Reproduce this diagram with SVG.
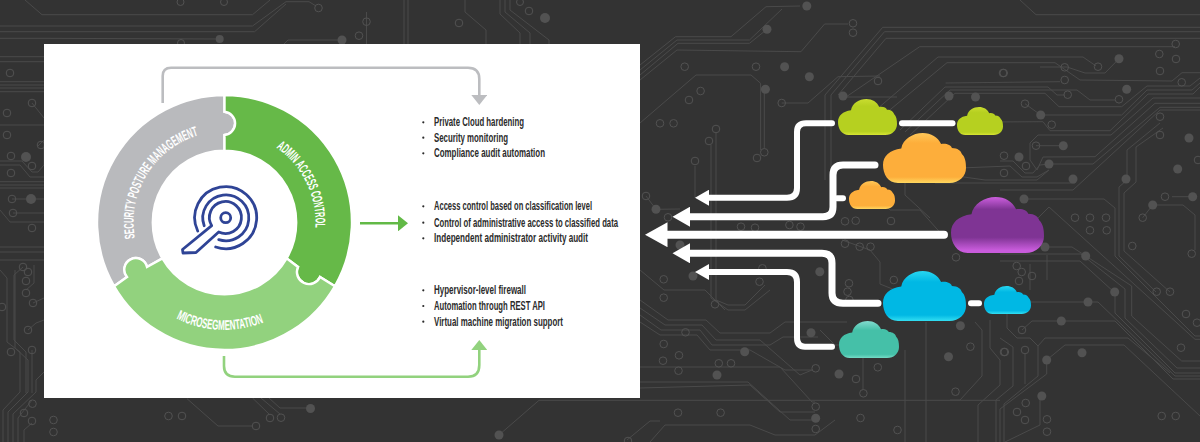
<svg xmlns="http://www.w3.org/2000/svg" width="1200" height="442" viewBox="0 0 1200 442">
<style>
.t{fill:none;stroke:#4a4a4a;stroke-width:1}
.r{fill:none;stroke:#525252;stroke-width:1}
.d{fill:#525252}
.w{fill:none;stroke:#fff;stroke-linecap:round;stroke-linejoin:round}
.seg{stroke:#fff;stroke-width:2.4}
.lab{font-family:"Liberation Sans Narrow","Liberation Sans",sans-serif;font-weight:700;font-size:14px;fill:#fff}
.bul{font-family:"Liberation Sans Narrow","Liberation Sans",sans-serif;font-weight:700;font-size:12px;fill:#2b2b2b}
.dotb{fill:#2b2b2b}
.logo{fill:none;stroke:#2f4496;stroke-width:2.8;stroke-linecap:round;stroke-linejoin:round}
</style>
<defs>
<marker id="hs" markerUnits="userSpaceOnUse" markerWidth="15" markerHeight="16" refX="0" refY="8" orient="auto" viewBox="0 0 15 16"><path d="M0 0L14 8L0 16Z" fill="#fff"/></marker>
<marker id="hm" markerUnits="userSpaceOnUse" markerWidth="18" markerHeight="20" refX="0" refY="10" orient="auto" viewBox="0 0 18 20"><path d="M0 0L17.5 10L0 20Z" fill="#fff"/></marker>
<marker id="hl" markerUnits="userSpaceOnUse" markerWidth="23" markerHeight="25" refX="0" refY="12.5" orient="auto" viewBox="0 0 23 25"><path d="M0 0L22.5 12.5L0 25Z" fill="#fff"/></marker>
<marker id="hgray" markerUnits="userSpaceOnUse" markerWidth="16" markerHeight="16" refX="0" refY="8" orient="auto" viewBox="0 0 16 16"><path d="M0 0L10 8L0 16Z" fill="#bcbdc0"/></marker>
<marker id="hlg" markerUnits="userSpaceOnUse" markerWidth="16" markerHeight="16" refX="0" refY="8" orient="auto" viewBox="0 0 16 16"><path d="M0 0L10 8L0 16Z" fill="#92d27e"/></marker>
<marker id="hg" markerUnits="userSpaceOnUse" markerWidth="16" markerHeight="16" refX="0" refY="8" orient="auto" viewBox="0 0 16 16"><path d="M0 0L10 8L0 16Z" fill="#62b946"/></marker>
<linearGradient id="gl" x1="0" y1="0" x2="0" y2="1"><stop offset="0" stop-color="#c9dc30"/><stop offset=".2" stop-color="#b6d020"/><stop offset=".9" stop-color="#b6d020"/><stop offset="1" stop-color="#d6e433"/></linearGradient>
<linearGradient id="go" x1="0" y1="0" x2="0" y2="1"><stop offset="0" stop-color="#ffc758"/><stop offset=".2" stop-color="#fdae3b"/><stop offset=".88" stop-color="#fdae3b"/><stop offset="1" stop-color="#ffd860"/></linearGradient>
<linearGradient id="gp" x1="0" y1="0" x2="0" y2="1"><stop offset="0" stop-color="#cc5ede"/><stop offset=".22" stop-color="#7f3494"/><stop offset=".72" stop-color="#7f3494"/><stop offset=".95" stop-color="#c95cdc"/></linearGradient>
<linearGradient id="gc" x1="0" y1="0" x2="0" y2="1"><stop offset="0" stop-color="#28d6f0"/><stop offset=".22" stop-color="#00b8e4"/><stop offset=".88" stop-color="#00b8e4"/><stop offset="1" stop-color="#33dff2"/></linearGradient>
<linearGradient id="gt" x1="0" y1="0" x2="0" y2="1"><stop offset="0" stop-color="#82dbcf"/><stop offset=".25" stop-color="#45c0a8"/><stop offset=".9" stop-color="#45c0a8"/><stop offset="1" stop-color="#74dcc6"/></linearGradient>
<path id="cl" d="M18 100C6 100 0 82 0 64C0 46 8 34 22 31C24 12 36 0 48 0C58 0 66 8 70 22C76 20 82 24 83 30C90 30 94 36 95 42C99 48 100 58 100 70C100 86 92 100 80 100Z"/>
<path id="pg" d="M134.9 238.3A91 91 0 0 1 197.9 135.5"/>
<path id="pa" d="M276.3 147.7A91 91 0 0 1 315.4 227.6"/>
<path id="pm" d="M176.2 318.5A107.5 107.5 0 0 0 265.5 321.7"/>
</defs>
<rect width="1200" height="442" fill="#333333"/>
<g id="background">
<g class="t">
<polyline points="25,0 42,14.7 252.5,14.7 270,0"/>
<polyline points="0,26 252.5,26 286,1.7 309,1.7 316,6"/>
<polyline points="0,31.7 254.6,31.7 286,4"/>
<polyline points="0,38.3 44,38.3 219.7,39"/>
<polyline points="284,44 288,40 342,40"/>
<path d="M366.5 12V44M404 0V44M408 0V44"/>
<polyline points="465,0 465,12 486,30 486,44"/>
<polyline points="500,0 500,14 520,33 520,44"/>
<polyline points="505,0 505,12 530,33 530,44"/>
<polyline points="510,0 510,10 549,40 549,44"/>
<polyline points="187,398.7 218,426 252.5,426"/>
<polyline points="252.5,398 269,414"/>
<polyline points="261,398 280,414"/>
<polyline points="269,398 280,408 307,408"/>
<polyline points="499,435 539,400.3 1000,400.3"/>
<polyline points="627,440 650,421 660,421"/>
<polyline points="3,442 3,410 20,392 20,352 7,342 7,278 0,270"/>
<polyline points="8,442 8,412 28,392 28,360 15,348 15,270"/>
<polyline points="13,442 13,414 36,392 36,380 44,372"/>
<polyline points="18,442 18,418 32,400"/>
<polyline points="24,442 24,430 32,423"/>
<path d="M0 56.7H44M0 61.7H44M0 81.7H44M0 85H44M0 88H44M0 91.7H44M0 125H44M0 181.7H44M0 185H44M0 188H44M0 247H44M0 252H44M0 260H44"/>
<polyline points="32,103 44,118"/>
<polyline points="0,165 20,165 30,177 44,177"/>
<polyline points="0,161 22,161 32,172 38,172 44,165 44,140 38,146"/>
<path d="M12 199H44M13 213H44"/>
<polyline points="0,210 10,222 44,222"/>
<polyline points="33,303 44,298"/>
<polyline points="28,330 36,323 44,320"/>
<polyline points="23,267 14,275 14,340 26,352 26,393"/>
<polyline points="34,265 34,283 26,290"/>
<polyline points="32,350 32,393"/>
<polyline points="640,65 675.5,36.7 731,36.7 766,6.7 800,6"/>
<polyline points="640,70 677,40 749.5,40 782,9"/>
<polyline points="640,75 678,43.3 749.5,43.3 767,29.3"/>
<polyline points="640,80 677,50 801,51.7 824.6,24 848,24"/>
<polyline points="1200,27.3 882.7,27.3 825,95 825,180"/>
<polyline points="1200,31.7 884.5,31.7 831,95 831,180"/>
<polyline points="1200,38.3 886,38.3 838,95"/>
<polyline points="1175,46.7 919.7,46.7 846,97 897,97"/>
<polyline points="1020,0 1036,14.7 1200,14.7"/>
<polyline points="870,115 938,57 1083,57 1096,66"/>
<polyline points="880,118 947,62.7 1055,62.7 1080,80 1172,81 1182,72.7 1200,72.7"/>
<polyline points="1119,58.7 1105,73 1085,73 1067,67 1040,67"/>
<polyline points="945.6,83 1060,81.7"/>
<polyline points="900,130 945,87 1048,87 1057,95 1065,95"/>
<polyline points="905,132 950,90 1077,90 1090,100 1115,100"/>
<polyline points="910,135 955,93.3 1045,93.3 1059,106.7 1121.7,106.7 1147,86 1190,86 1200,78"/>
<polyline points="986,122 1043,121.7 1050,130.7 1110,130.7 1148,94 1193,94 1200,87"/>
<polyline points="1025,103.7 1040.7,115 1121.7,115 1147,90 1192,90 1200,83"/>
<polyline points="1038,135 1111,135 1153,98 1200,98"/>
<polyline points="1038,135 1030,143 1030,160 1037,170 1043,157 1095,156.7 1155,103.3 1200,103.3"/>
<polyline points="1000,161 1013,161 1025,173 1033,173 1040,165 1049,164 1093,164 1160,107.3 1200,107.3"/>
<polyline points="960,168 1010,166 1022,177 1037,177 1049,170"/>
<polyline points="950,175 985,180 1037,180 1049,170"/>
<polyline points="1000,190 1073,190 1160,110 1200,110"/>
<polyline points="935,183 1075,183"/>
<polyline points="1160,123 1127,150 1127,180 1119,187 1119,256 1156,292"/>
<polyline points="1163,128 1136,147 1136,182 1124,193 1124,251 1170,292"/>
<path d="M1036 145.7H1063M1172 196.7H1192"/>
<polyline points="1024,199 1104,199 1115,208 1115,256 1195,336 1200,336"/>
<polyline points="1035,221 1049,207 1195,339.3 1200,339.3"/>
<polyline points="1142.7,217.7 1152.7,205 1183,205 1195,215 1195,250"/>
<polyline points="1045,247 1072,247 1131.7,286 1131.7,316 1181.7,361 1200,361"/>
<polyline points="1000,254 1081,254 1125,289 1125,318 1177,368 1200,368"/>
<polyline points="1000,261 1080,261 1115,293 1115,313 1175,373 1200,373"/>
<polyline points="1030,302 1098,302 1175,376 1200,376"/>
<polyline points="1022,330 1032,321 1115,321 1173,379 1200,379"/>
<polyline points="1038,346 1045,338 1128,338 1170,373"/>
<polyline points="1046.7,360 1065,345 1124,345 1200,416"/>
<polyline points="1046.7,360 1046.7,374 1000,409 1000,442"/>
<polyline points="1038,346 1038,376 1004,404 1004,442"/>
<polyline points="1007,314 1007,328 1017,338 1030,338 1038,346"/>
<polyline points="1000,338 1013,347 1013,386 996,400 996,442"/>
<path d="M1025 354V384M1047 280V255M1030 264V290"/>
<polyline points="990,320 990,348 1000,360 1000,385 978,405 978,442"/>
<polyline points="975,322 982,330 982,376 960,400 950,400"/>
<polyline points="926,322 926,442"/>
<polyline points="640,123 696,75 751,75 760.6,83.3 760.6,150"/>
<path d="M764.3 89V148M716 133V300M711 145V298M695 166V198"/>
<polyline points="711,298 728,310 745,310 770,290"/>
<polyline points="716,300 728,305 745,305 765,285"/>
<polyline points="646,196 656,209.3 680,209"/>
<polyline points="781.7,103 808,103 838,76.7 880,76"/>
<polyline points="640,270 664,290 705,290 725,310"/>
<polyline points="640,300 668,320 706,320 720,333 770,333 785,322 847,322"/>
<polyline points="640,308 665,325 702,325 716,340 760,340 800,375 812,370"/>
<polyline points="640,315 661,330 700,330 712,345 770,345 783,337 818,337"/>
<polyline points="640,322 660,335 697,335 710,350 750,350 785,370 812,370"/>
<polyline points="640,367 780,367 812,402 815,402"/>
<polyline points="640,388 750,385 780,412 815,412"/>
<polyline points="640,382 748,382 790,420 815,420"/>
<polyline points="650,442 665,425 750,425 775,435 815,435 835,420"/>
<polyline points="820,330 835,345 880,345"/>
<polyline points="863,358 863,390"/>
<polyline points="842,240 870,250 880,262 880,284 895,290 942,290"/>
<polyline points="880,200 890,210 920,210 945,238"/>
<polyline points="905,183 905,195 930,218"/>
<polyline points="905,350 905,442"/>
<polyline points="1040,400 1040,425 1005,442"/>
</g>
<g class="r">
<circle cx="180.5" cy="2" r="3.5"/><circle cx="224" cy="2" r="3.5"/><circle cx="318.5" cy="8" r="3.8"/><circle cx="366.5" cy="21.7" r="3.8"/><circle cx="359" cy="35.7" r="3.8"/><circle cx="459" cy="23" r="3.8"/><circle cx="520" cy="2" r="3.5"/><circle cx="529" cy="11" r="3.8"/><circle cx="181" cy="43" r="3.5"/>
<circle cx="256" cy="426" r="3.8"/><circle cx="270" cy="418" r="3.8"/><circle cx="281" cy="417.7" r="3.8"/><circle cx="168.5" cy="416" r="3.8"/><circle cx="182" cy="416" r="3.8"/><circle cx="32.5" cy="403.7" r="3.8"/><circle cx="24" cy="413" r="3.8"/><circle cx="32" cy="421" r="3.8"/><circle cx="53.5" cy="420" r="3.8"/><circle cx="53.5" cy="432" r="3.8"/><circle cx="628" cy="441" r="3.8"/>
<circle cx="10" cy="73" r="3.8"/><circle cx="32" cy="103" r="3.8"/><circle cx="7" cy="113" r="3.8"/><circle cx="7" cy="135" r="3.8"/><circle cx="11" cy="156" r="3.8"/><circle cx="32" cy="166" r="3.8"/><circle cx="11" cy="173" r="3.8"/><circle cx="41" cy="145" r="3.8"/><circle cx="12" cy="199" r="3.8"/><circle cx="13" cy="213" r="3.8"/><circle cx="32" cy="228" r="3.8"/><circle cx="23" cy="267" r="3.8"/><circle cx="28" cy="272" r="3.8"/><circle cx="26" cy="281" r="3.8"/><circle cx="26" cy="293" r="3.8"/><circle cx="33" cy="303" r="3.8"/><circle cx="28" cy="330" r="3.8"/><circle cx="11" cy="352" r="3.8"/><circle cx="32" cy="350" r="3.8"/><circle cx="2" cy="307" r="3.8"/>
<circle cx="1175.7" cy="44" r="3.8"/><circle cx="1159.3" cy="54" r="3.8"/><circle cx="1176" cy="59" r="3.8"/><circle cx="1160" cy="71" r="3.8"/><circle cx="1098" cy="66.7" r="3.8"/><circle cx="1064.7" cy="67.3" r="3.8"/><circle cx="1181.7" cy="82.3" r="3.8"/><circle cx="1003" cy="73" r="3.8"/><circle cx="1064.7" cy="80" r="3.8"/><circle cx="1067.7" cy="94.7" r="3.8"/><circle cx="1119" cy="99.3" r="3.8"/><circle cx="1025" cy="103.7" r="3.8"/><circle cx="1051.7" cy="124.7" r="3.8"/><circle cx="1160" cy="116.7" r="3.8"/><circle cx="1160" cy="135" r="3.8"/><circle cx="1198" cy="160" r="3.8"/><circle cx="1036" cy="145.7" r="3.8"/><circle cx="1004" cy="155.7" r="3.8"/><circle cx="1026" cy="166" r="3.8"/><circle cx="1004" cy="173" r="3.8"/><circle cx="1075" cy="217.7" r="3.8"/><circle cx="1090" cy="217.7" r="3.8"/><circle cx="1106" cy="217.7" r="3.8"/><circle cx="1090" cy="230.3" r="3.8"/><circle cx="1106.7" cy="230.3" r="3.8"/><circle cx="1142.7" cy="217.7" r="3.8"/><circle cx="1165" cy="196.7" r="3.8"/><circle cx="1191.7" cy="253.7" r="3.8"/><circle cx="1132.3" cy="246" r="3.8"/><circle cx="1156.7" cy="291.7" r="3.8"/><circle cx="1170" cy="291.7" r="3.8"/><circle cx="1186" cy="314" r="3.8"/><circle cx="1197" cy="322.7" r="3.8"/><circle cx="1181" cy="347.7" r="3.8"/><circle cx="1016.7" cy="266" r="3.8"/><circle cx="1021.7" cy="272" r="3.8"/><circle cx="1019" cy="281" r="3.8"/><circle cx="1032" cy="276" r="3.8"/><circle cx="1004" cy="352" r="3.8"/><circle cx="1025" cy="350" r="3.8"/><circle cx="1022" cy="330" r="3.8"/><circle cx="1025.7" cy="403" r="3.8"/><circle cx="1017" cy="412" r="3.8"/><circle cx="1025" cy="420" r="3.8"/><circle cx="1047" cy="419.3" r="3.8"/><circle cx="1047" cy="431.7" r="3.8"/><circle cx="1161.7" cy="416" r="3.8"/><circle cx="1175.7" cy="416" r="3.8"/>
<circle cx="756" cy="66.7" r="3.8"/><circle cx="853" cy="23.3" r="3.8"/><circle cx="853" cy="32.7" r="3.8"/><circle cx="684.7" cy="66.7" r="3.8"/><circle cx="781.7" cy="103" r="3.8"/><circle cx="878" cy="81" r="3.8"/><circle cx="1003.7" cy="73" r="3.8"/><circle cx="660" cy="123.3" r="3.8"/><circle cx="673.6" cy="123.3" r="3.8"/><circle cx="689" cy="100" r="3.8"/><circle cx="700.6" cy="91" r="3.8"/><circle cx="716" cy="129" r="3.8"/><circle cx="709" cy="141" r="3.8"/><circle cx="695" cy="161" r="3.8"/><circle cx="646" cy="196" r="3.8"/><circle cx="668" cy="217.3" r="3.8"/><circle cx="741" cy="226.7" r="3.8"/><circle cx="755" cy="227.7" r="3.8"/><circle cx="789.4" cy="225" r="3.8"/><circle cx="800.5" cy="226.7" r="3.8"/><circle cx="845" cy="221.3" r="3.8"/><circle cx="855.7" cy="220.7" r="3.8"/><circle cx="891" cy="221" r="3.8"/><circle cx="845" cy="243.7" r="3.8"/><circle cx="859.7" cy="246.7" r="3.8"/><circle cx="870.5" cy="246.7" r="3.8"/><circle cx="956" cy="257.3" r="3.8"/><circle cx="757" cy="158" r="3.8"/><circle cx="764.3" cy="152.3" r="3.8"/>
<circle cx="663.7" cy="279.3" r="3.8"/><circle cx="663.7" cy="297.7" r="3.8"/><circle cx="715" cy="304.3" r="3.8"/><circle cx="685.5" cy="332.3" r="3.8"/><circle cx="663.7" cy="344" r="3.8"/><circle cx="679" cy="355.3" r="3.8"/><circle cx="663" cy="360.7" r="3.8"/><circle cx="678.5" cy="370.7" r="3.8"/><circle cx="718.8" cy="363.3" r="3.8"/><circle cx="731" cy="363.3" r="3.8"/><circle cx="815.7" cy="368.3" r="3.8"/><circle cx="762.4" cy="268.3" r="3.8"/><circle cx="759.5" cy="281.7" r="3.8"/><circle cx="849" cy="283.3" r="3.8"/><circle cx="847.5" cy="291.7" r="3.8"/><circle cx="849.4" cy="300" r="3.8"/><circle cx="893.8" cy="280" r="3.8"/><circle cx="970.4" cy="346.7" r="3.8"/><circle cx="1004.8" cy="352" r="3.8"/><circle cx="877.8" cy="367.3" r="3.8"/><circle cx="856" cy="379" r="3.8"/><circle cx="863.4" cy="393.3" r="3.8"/><circle cx="955.5" cy="391.7" r="3.8"/><circle cx="815.7" cy="406.7" r="3.8"/><circle cx="815.7" cy="429" r="3.8"/><circle cx="678" cy="412.7" r="3.8"/><circle cx="720.6" cy="412.7" r="3.8"/><circle cx="860.5" cy="418" r="3.8"/><circle cx="897.5" cy="430" r="3.8"/>
</g>
<g class="d">
<circle cx="219.7" cy="39" r="4"/><circle cx="342" cy="40" r="4.5"/><circle cx="545" cy="18" r="5"/><circle cx="310.5" cy="408.5" r="4.5"/><circle cx="499" cy="435" r="4.5"/><circle cx="26" cy="157" r="5"/><circle cx="31" cy="199" r="5"/>
<circle cx="806.8" cy="6" r="4.5"/><circle cx="767" cy="29.3" r="4.5"/><circle cx="784.6" cy="66.7" r="4.5"/><circle cx="809.4" cy="76.7" r="4.5"/><circle cx="765.4" cy="89.3" r="4.5"/><circle cx="656" cy="209.3" r="4.5"/><circle cx="680" cy="245" r="4.5"/><circle cx="839" cy="374" r="4.5"/><circle cx="717" cy="375" r="4.5"/><circle cx="744.7" cy="351.7" r="4.5"/><circle cx="811" cy="332.7" r="4.5"/><circle cx="693" cy="276" r="4.5"/><circle cx="819.8" cy="271.7" r="4.5"/><circle cx="960.4" cy="325.7" r="4.5"/><circle cx="948.5" cy="356.7" r="4.5"/><circle cx="1041.8" cy="396" r="4.5"/><circle cx="815.7" cy="418.3" r="4.5"/>
<circle cx="843" cy="96" r="4.5"/><circle cx="949" cy="96" r="4.5"/><circle cx="975.5" cy="97" r="4.5"/>
<circle cx="1119" cy="58.7" r="4.5"/><circle cx="1126.7" cy="89.3" r="4.5"/><circle cx="1040.7" cy="115" r="4.5"/><circle cx="1063.3" cy="145.7" r="4.5"/><circle cx="1019" cy="157" r="4.5"/><circle cx="1049" cy="164" r="4.5"/><circle cx="1073" cy="179" r="4.5"/><circle cx="1126" cy="179" r="4.5"/><circle cx="1189" cy="138" r="4.5"/><circle cx="1177.7" cy="169" r="4.5"/><circle cx="1024" cy="199" r="4.5"/><circle cx="1192.7" cy="196.7" r="4.5"/><circle cx="1152.7" cy="205" r="4.5"/><circle cx="1045" cy="247" r="4.5"/><circle cx="1085.7" cy="256" r="4.5"/><circle cx="1114.7" cy="292" r="4.5"/><circle cx="1088" cy="302" r="4.5"/><circle cx="1061.3" cy="321" r="4.5"/><circle cx="1046.7" cy="360" r="4.5"/><circle cx="1082" cy="352.7" r="4.5"/>
</g>
</g>
<rect id="panel" x="44" y="44" width="596" height="354" fill="#fff"/>
<g id="connectors">
<path d="M162.7 103V76Q162.7 67.7 171 67.7H468Q479.3 67.7 479.3 79V95" fill="none" stroke="#bcbdc0" stroke-width="2.6" marker-end="url(#hgray)"/>
<path d="M224 356V366Q224 376.7 235 376.7H468Q479.3 376.7 479.3 365V350" fill="none" stroke="#92d27e" stroke-width="2.6" marker-end="url(#hlg)"/>
<path d="M360 223.3H398" fill="none" stroke="#62b946" stroke-width="2.6" marker-end="url(#hg)"/>
<path class="w" stroke-width="6" d="M832 123.3H806Q797 123.3 797 132V188Q797 197.7 787 197.7H709" marker-end="url(#hs)"/>
<path class="w" stroke-width="6" d="M902 123.3H952.5"/>
<path class="w" stroke-width="7" d="M875 165H843Q833 165 833 175V207Q833 216.7 823 216.7H690" marker-end="url(#hm)"/>
<path class="w" stroke-width="6" d="M837 198.3H843"/>
<path class="w" stroke-width="8" d="M944 234.7H667.5" marker-end="url(#hl)"/>
<path class="w" stroke-width="7" d="M878 303.3H843Q832 303.3 832 293V263Q832 253.3 822 253.3H690" marker-end="url(#hm)"/>
<path class="w" stroke-width="6" d="M971 303.3H979"/>
<path class="w" stroke-width="6" d="M832 346.7H805Q797 346.7 797 338V282Q797 272 787 272H709" marker-end="url(#hs)"/>
</g>
<g id="segment-security"><path class="seg" fill="#b9babd" d="M224.5 95V111.7A11.7 11.7 0 0 1 224.5 135V150.8A71.7 71.7 0 0 0 162.4 258.35L147 267A11.5 11.5 0 1 0 127 277L114.1 286.25A127.5 127.5 0 0 1 224.5 95Z"/><text class="lab"><textPath href="#pg" textLength="132" lengthAdjust="spacingAndGlyphs">SECURITY POSTURE MANAGEMENT</textPath></text></g>
<g id="segment-admin"><path class="seg" fill="#66b948" d="M224.5 95A127.5 127.5 0 0 1 334.9 286.25L320 277A11.5 11.5 0 1 1 298 267L286.6 258.35A71.7 71.7 0 0 0 224.5 150.8V135A11.7 11.7 0 0 0 224.5 111.7Z"/><text class="lab"><textPath href="#pa" textLength="93" lengthAdjust="spacingAndGlyphs">ADMIN ACCESS CONTROL</textPath></text></g>
<g id="segment-micro"><path class="seg" fill="#92d27e" d="M114.1 286.25L127 277A11.5 11.5 0 1 1 147 267L162.4 258.35A71.7 71.7 0 0 0 286.6 258.35L298 267A11.5 11.5 0 1 0 320 277L334.9 286.25A127.5 127.5 0 0 1 114.1 286.25Z"/><text class="lab"><textPath href="#pm" textLength="90" lengthAdjust="spacingAndGlyphs">MICROSEGMENTATION</textPath></text></g>
<g id="logo" class="logo">
<circle cx="225.7" cy="217.7" r="5"/>
<path d="M197.7 231A31 31 0 1 1 215.7 247"/>
<path d="M204.2 225.7A23 23 0 1 1 218.7 239.7"/>
<path d="M211.7 225.7A16 16 0 1 1 218.7 232L196 252.5L183 253L182.5 249.5Z"/>
</g>
<g id="list-1">
<circle class="dotb" cx="423.3" cy="122.3" r="1.1"/><text class="bul" x="434" y="126.2" textLength="90" lengthAdjust="spacingAndGlyphs">Private Cloud hardening</text>
<circle class="dotb" cx="423.3" cy="137.7" r="1.1"/><text class="bul" x="434" y="141.6" textLength="74" lengthAdjust="spacingAndGlyphs">Security monitoring</text>
<circle class="dotb" cx="423.3" cy="153.3" r="1.1"/><text class="bul" x="434" y="157.2" textLength="111" lengthAdjust="spacingAndGlyphs">Compliance audit automation</text>
</g>
<g id="list-2">
<circle class="dotb" cx="423.3" cy="206.3" r="1.1"/><text class="bul" x="434" y="210.2" textLength="158" lengthAdjust="spacingAndGlyphs">Access control based on classification level</text>
<circle class="dotb" cx="423.3" cy="222.7" r="1.1"/><text class="bul" x="434" y="226.6" textLength="184" lengthAdjust="spacingAndGlyphs">Control of administrative access to classified data</text>
<circle class="dotb" cx="423.3" cy="238.3" r="1.1"/><text class="bul" x="434" y="242.2" textLength="154" lengthAdjust="spacingAndGlyphs">Independent administrator activity audit</text>
</g>
<g id="list-3">
<circle class="dotb" cx="423.3" cy="290.3" r="1.1"/><text class="bul" x="434" y="294.2" textLength="92" lengthAdjust="spacingAndGlyphs">Hypervisor-level firewall</text>
<circle class="dotb" cx="423.3" cy="306" r="1.1"/><text class="bul" x="434" y="309.9" textLength="111" lengthAdjust="spacingAndGlyphs">Automation through REST API</text>
<circle class="dotb" cx="423.3" cy="321.7" r="1.1"/><text class="bul" x="434" y="325.6" textLength="129" lengthAdjust="spacingAndGlyphs">Virtual machine migration support</text>
</g>
<g id="cloud-lime-1"><use href="#cl" transform="translate(838 99) scale(.59 .36)" fill="url(#gl)"/></g>
<g id="cloud-lime-2"><use href="#cl" transform="translate(957 107) scale(.46 .28)" fill="url(#gl)"/></g>
<g id="cloud-orange-1"><use href="#cl" transform="translate(883 133) scale(.83 .5)" fill="url(#go)"/></g>
<g id="cloud-orange-2"><use href="#cl" transform="translate(849 181) scale(.46 .28)" fill="url(#go)"/></g>
<g id="cloud-purple"><use href="#cl" transform="translate(951 197) scale(.93 .56)" fill="url(#gp)"/></g>
<g id="cloud-cyan-1"><use href="#cl" transform="translate(883 271) scale(.83 .5)" fill="url(#gc)"/></g>
<g id="cloud-cyan-2"><use href="#cl" transform="translate(984 286) scale(.47 .28)" fill="url(#gc)"/></g>
<g id="cloud-teal"><use href="#cl" transform="translate(839 321) scale(.6 .37)" fill="url(#gt)"/></g>
</svg>
